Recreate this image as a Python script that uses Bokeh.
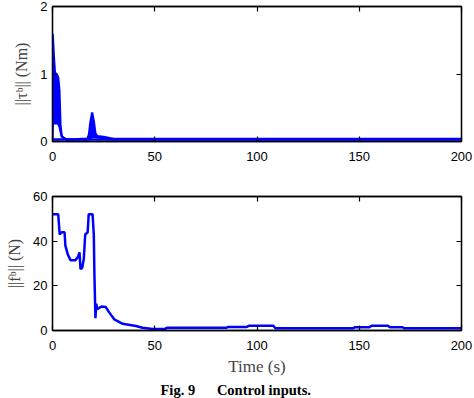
from bokeh.plotting import figure
from bokeh.layouts import column
from bokeh.models import Range1d, FixedTicker, LinearAxis, Title
from bokeh.embed import file_html
from bokeh.resources import INLINE

# ---------------- data ----------------
time_ticks = [0, 50, 100, 150, 200]
tau_ticks = [0, 1, 2]
force_ticks = [0, 20, 40, 60]

# torque norm ||tau^b|| (Nm): upper / lower envelope of the fast oscillation
tau_t  = [0, 0.2, 0.6, 1.2, 2.0, 2.8, 3.4, 3.9, 4.5, 5.5, 7, 10, 14, 17, 17.8, 18.6, 19.4, 20.2, 21.0, 22, 25, 28, 30, 50, 80, 120, 160, 200]
tau_hi = [1.60, 1.55, 1.30, 1.02, 1.00, 0.95, 0.75, 0.25, 0.08, 0.05, 0.03, 0.03, 0.04, 0.04, 0.10, 0.30, 0.43, 0.30, 0.12, 0.08, 0.07, 0.05, 0.04, 0.04, 0.04, 0.04, 0.04, 0.04]
tau_lo = [0.02, 0.26, 0.27, 0.27, 0.27, 0.26, 0.22, 0.15, 0.08, 0.05, 0.03, 0.03, 0.03, 0.03, 0.04, 0.05, 0.07, 0.07, 0.07, 0.06, 0.05, 0.04, 0.03, 0.03, 0.03, 0.03, 0.03, 0.03]
tau_base_t = [0, 5, 10, 50, 100, 150, 200]
tau_base = [0.03, 0.03, 0.03, 0.03, 0.03, 0.03, 0.03]

# force norm ||f^b|| (N)
f_t = [0, 2.8, 3.2, 3.5, 4.5, 5.9, 6.3, 7.5, 8.8, 11.2, 12.5, 13.2, 13.7, 14.5, 15.3, 16, 17.2, 17.7, 19.6, 20.2, 20.5, 21, 21.4, 21.9, 22.6, 24, 26, 27.8, 30.2, 34.3, 40.8, 44, 49, 55, 56, 85, 86, 95, 96, 108, 109, 147, 148, 155, 156, 164, 165, 171, 172, 200]
f_v = [52, 52, 47, 43, 44, 44, 38, 34, 31.5, 31.5, 33, 35, 27.5, 28, 32, 43, 44, 52, 52, 43, 25, 5.5, 12, 9.5, 10, 10.7, 10.5, 8, 5, 3, 2, 1.2, 0.7, 0.7, 1.2, 1.2, 1.6, 1.6, 2.1, 2.1, 1.0, 1.0, 1.5, 1.5, 2.1, 2.1, 1.5, 1.5, 1.0, 1.0]

BLUE = "#0000FF"
TICK_FONT = "Liberation Sans"
SERIF = "Liberation Serif"


def make_fig(height, border_top, border_bottom, yr, yticks, ylabel):
    p = figure(width=474, height=height, output_backend="svg", toolbar_location=None,
               x_range=Range1d(0, 200), y_range=Range1d(*yr),
               min_border_left=52, min_border_right=13,
               min_border_top=border_top, min_border_bottom=border_bottom,
               x_axis_location=None, y_axis_location=None)
    p.grid.visible = False
    p.background_fill_color = "white"
    p.border_fill_color = "white"
    p.outline_line_color = "black"
    p.outline_line_width = 1.3

    xb = LinearAxis(ticker=FixedTicker(ticks=time_ticks))
    yl = LinearAxis(ticker=FixedTicker(ticks=yticks), axis_label=ylabel)
    xa = LinearAxis(ticker=FixedTicker(ticks=time_ticks))
    yr_ax = LinearAxis(ticker=FixedTicker(ticks=yticks))
    for ax in (xb, yl, xa, yr_ax):
        ax.major_tick_in = 5
        ax.major_tick_out = 0
        ax.minor_tick_line_color = None
        ax.axis_line_color = "black"
        ax.axis_line_width = 1.3
        ax.major_tick_line_color = "black"
        ax.major_tick_line_width = 1.2
        ax.major_label_text_font = TICK_FONT
        ax.major_label_text_font_size = "13px"
        ax.major_label_text_color = "black"
    for ax in (xa, yr_ax):
        ax.major_label_text_color = None
        ax.major_label_text_font_size = "1px"
        ax.major_label_standoff = 0
    xb.major_label_standoff = 10
    yl.major_label_standoff = 5
    yl.axis_label_text_font = SERIF
    yl.axis_label_text_font_size = "16px"
    yl.axis_label_text_font_style = "normal"
    yl.axis_label_standoff = 7
    p.add_layout(xb, "below")
    p.add_layout(yl, "left")
    p.add_layout(xa, "above")
    p.add_layout(yr_ax, "right")
    return p, xb


p1, _ = make_fig(170, 6, 29, (0, 2), tau_ticks, "||τᵇ|| (Nm)")
p1.varea(x=tau_t, y1=tau_lo, y2=tau_hi, fill_color=BLUE)
p1.line(tau_t, tau_hi, line_color=BLUE, line_width=2.2)
p1.line(tau_t, tau_lo, line_color=BLUE, line_width=2.2)
p1.line(tau_base_t, tau_base, line_color=BLUE, line_width=2.5)

p2, xb2 = make_fig(228, 26, 68, (0, 60), force_ticks, "||fᵇ|| (N)")
p2.line(f_t, f_v, line_color=BLUE, line_width=2.5)
xb2.axis_label = "Time (s)"
xb2.axis_label_text_font = SERIF
xb2.axis_label_text_font_size = "17px"
xb2.axis_label_text_font_style = "normal"
xb2.axis_label_standoff = 4

cap = Title(text="Fig. 9\u00a0\u00a0\u00a0\u00a0\u00a0\u00a0Control inputs.", align="left",
            text_font=SERIF, text_font_size="14.5px", text_font_style="bold",
            text_color="black", offset=108, standoff=2)
p2.add_layout(cap, "below")

layout = column(p1, p2, margin=(0, 0, 0, 0), spacing=0)

open("out.html", "w").write(file_html(layout, INLINE))
